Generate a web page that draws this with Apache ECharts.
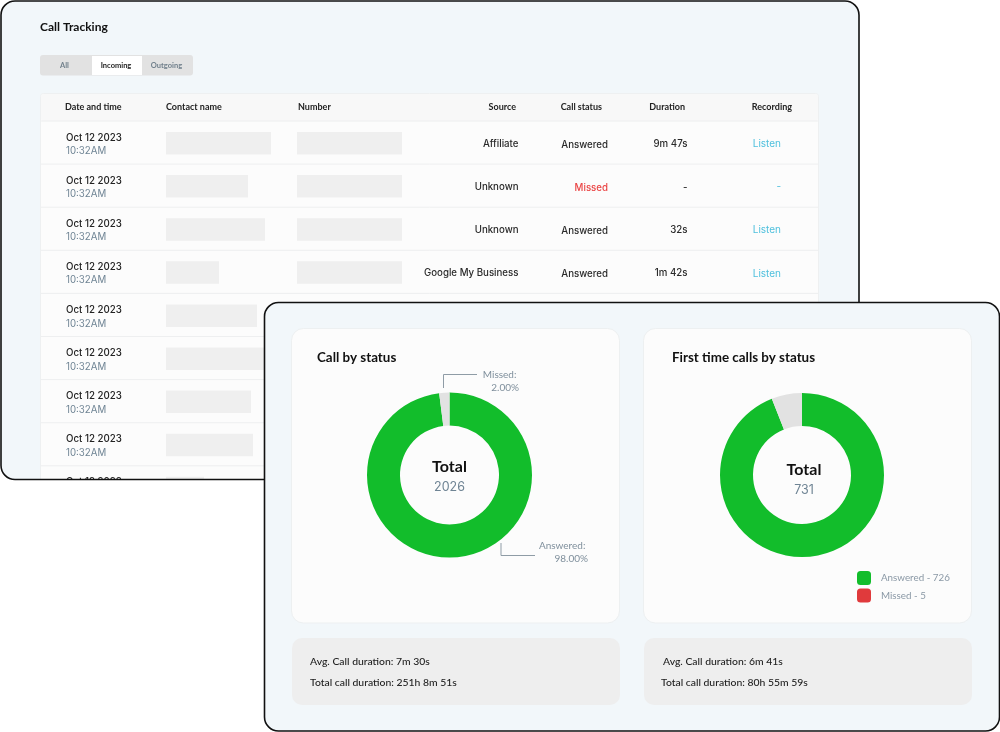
<!DOCTYPE html>
<html>
<head>
<meta charset="utf-8">
<title>Call Tracking</title>
<style>
  html, body { margin: 0; padding: 0; background: #fff; }
  #chart { width: 1000px; height: 732px; }
</style>
<script src="https://cdn.jsdelivr.net/npm/echarts@6/dist/echarts.min.js"></script>
</head>
<body>
<div id="chart"></div>
<script>
// table content
const tabs = ['All', 'Incoming', 'Outgoing'];
const columns = ['Date and time', 'Contact name', 'Number', 'Source', 'Call status', 'Duration', 'Recording'];
const dates = ['Oct 12 2023', 'Oct 12 2023', 'Oct 12 2023', 'Oct 12 2023', 'Oct 12 2023', 'Oct 12 2023', 'Oct 12 2023', 'Oct 12 2023', 'Oct 12 2023'];
const times = ['10:32AM', '10:32AM', '10:32AM', '10:32AM', '10:32AM', '10:32AM', '10:32AM', '10:32AM'];
const sources = ['Affiliate', 'Unknown', 'Unknown', 'Google My Business'];
const statuses = ['Answered', 'Missed', 'Answered', 'Answered'];
const durations = ['9m 47s', '-', '32s', '1m 42s'];
const recordings = ['Listen', '-', 'Listen', 'Listen'];
const contactBlockWidths = [105, 82, 99, 53, 91, 110, 85, 87, 38];

// donut content
const statusNames = ['Answered', 'Missed'];
const callShare = [98, 2];
const callTotal = 2026;
// slice as drawn in the picture, the legend counts below say something else
const firstTimeShare = [94, 6];
const firstTimeCounts = [726, 5];
const firstTimeTotal = 731;
const callDurations = ['Avg. Call duration: 7m 30s', 'Total call duration: 251h 8m 51s'];
const firstTimeDurations = ['Avg. Call duration: 6m 41s', 'Total call duration: 80h 55m 59s'];

const GREEN = '#12bd2b';
const GREY = '#e2e2e2';
const RED = '#e03a3c';
const SLATE = '#6f8494';
const HEAD_FONT = 'Lato, sans-serif';
const BODY_FONT = 'Inter, sans-serif';
const BODY_SIZE = 9.7;

const rect = (x, y, width, height, fill, r = 0, stroke = null, lineWidth = 1) => ({
  type: 'rect',
  shape: { x, y, width, height, r },
  style: { fill, stroke, lineWidth }
});

const text = (x, y, str, opts = {}) => ({
  type: 'text',
  x,
  y,
  style: {
    text: str,
    fill: opts.color || '#1d1d1d',
    font: `${opts.weight || 400} ${opts.size || 11}px ${opts.family || BODY_FONT}`,
    align: opts.align || 'left',
    verticalAlign: 'middle'
  }
});

function backWindow() {
  const rowTop = i => 121 + i * 43.1;
  const items = [
    rect(1, 1, 858, 478, '#f2f7fa', 14),
    rect(40.5, 93.5, 778, 400, '#fcfcfc', 3, '#eef0f1'),
    rect(41, 94, 777, 27.5, '#f8f8f8', 3),
    rect(40, 55, 153, 20.5, GREY, 3),
    rect(92, 56, 50, 19, '#fff')
  ];
  const tabX = [64.5, 116, 166.5];
  const tabColor = ['#71808c', '#1d1d1d', '#71808c'];
  tabs.forEach((t, i) => {
    items.push(text(tabX[i], 65.5, t, { size: 7.5, weight: 700, family: HEAD_FONT, align: 'center', color: tabColor[i] }));
  });
  items.push(text(40, 27, 'Call Tracking', { size: 12, weight: 700, family: HEAD_FONT, color: '#111' }));

  const colX = [65, 166, 298, 516, 602, 685, 792];
  const colAlign = ['left', 'left', 'left', 'right', 'right', 'right', 'right'];
  columns.forEach((c, i) => {
    items.push(text(colX[i], 107, c, { size: 9, weight: 700, family: HEAD_FONT, align: colAlign[i], color: '#222' }));
  });

  dates.forEach((d, i) => {
    const top = rowTop(i);
    items.push({
      type: 'line',
      shape: { x1: 41, y1: top, x2: 818, y2: top },
      style: { stroke: '#eeeff0', lineWidth: 1 }
    });
    items.push(rect(166, top + 11, contactBlockWidths[i], 22.5, '#efefef'));
    items.push(rect(297, top + 11, 105, 22.5, '#efefef'));
    items.push(text(66, top + 16.7, d, { size: BODY_SIZE, weight: 500, color: '#222' }));
    if (times[i]) items.push(text(66, top + 30.2, times[i], { size: BODY_SIZE, color: SLATE }));
  });

  sources.forEach((s, i) => {
    const top = rowTop(i);
    items.push(text(518.5, top + 23.2, s, { size: BODY_SIZE, weight: 500, align: 'right', color: '#2a2a2a' }));
    items.push(text(608, top + 23.7, statuses[i], { size: BODY_SIZE, weight: 500, align: 'right', color: statuses[i] === 'Missed' ? '#ea4444' : '#2a2a2a' }));
    items.push(text(687.5, top + 23.2, durations[i], { size: BODY_SIZE, weight: 500, align: 'right', color: '#2a2a2a' }));
    items.push(text(781, top + 23.2, recordings[i], { size: 10, align: 'right', color: '#4fc0dd' }));
  });

  // anything past the window bottom gets covered, then the outline goes on top
  items.push(rect(0, 480, 270, 30, '#fff'));
  items.push(rect(1, 1, 858, 478.5, 'transparent', 14, '#111', 1.6));
  return items;
}

function frontWindow() {
  const items = [
    rect(264.5, 302.5, 735, 428.5, '#f2f7fa', 14, '#111', 1.6),
    rect(291.5, 328.5, 328, 294.5, '#fcfcfc', 12, '#edf0f1'),
    rect(643.5, 328.5, 328, 294.5, '#fcfcfc', 12, '#edf0f1'),
    rect(292, 638, 328, 67, '#eeeeee', 10),
    rect(644, 638, 328, 67, '#eeeeee', 10),
    text(317, 357.5, 'Call by status', { size: 13.4, weight: 700, family: HEAD_FONT, color: '#111' }),
    text(672, 357.5, 'First time calls by status', { size: 13.4, weight: 700, family: HEAD_FONT, color: '#111' })
  ];
  callDurations.forEach((d, i) => {
    items.push(text(310, 662 + i * 21, d, { size: 10.4, weight: 500, family: HEAD_FONT, color: '#222' }));
  });
  firstTimeDurations.forEach((d, i) => {
    items.push(text(i ? 661 : 663, 662 + i * 21, d, { size: 10.4, weight: 500, family: HEAD_FONT, color: '#222' }));
  });
  return items;
}

function centerText(x, y, total) {
  const a = text(x, y, 'Total', { size: 16, weight: 700, family: HEAD_FONT, align: 'center', color: '#111' });
  const b = text(x, y + 20, String(total), { size: 12.5, align: 'center', color: SLATE });
  a.z = 10;
  b.z = 10;
  return [a, b];
}

const toPie = values => statusNames.map((name, i) => ({
  name,
  value: values[i],
  itemStyle: { color: i === 0 ? GREEN : GREY }
}));

const chart = echarts.init(document.getElementById('chart'));

chart.setOption({
  animation: false,
  graphic: {
    elements: [
      ...backWindow(),
      ...frontWindow(),
      ...centerText(449.5, 467, callTotal),
      ...centerText(804, 470, firstTimeTotal)
    ]
  },
  legend: {
    orient: 'vertical',
    left: 857,
    top: 571,
    padding: 0,
    itemWidth: 14,
    itemHeight: 14,
    itemGap: 3.5,
    icon: 'roundRect',
    selectedMode: false,
    data: statusNames.map((name, i) => ({ name, itemStyle: { color: i === 0 ? GREEN : RED } })),
    formatter: name => `${name} - ${firstTimeCounts[statusNames.indexOf(name)]}`,
    textStyle: { color: '#8a98a5', fontSize: 9.8, fontFamily: HEAD_FONT, padding: [0, 0, 0, 5] }
  },
  series: [
    {
      type: 'pie',
      center: [449.5, 475],
      radius: [49.5, 82.5],
      startAngle: 90,
      silent: true,
      data: toPie(callShare),
      label: {
        show: true,
        color: '#7f8f9c',
        fontSize: 10,
        lineHeight: 13,
        fontFamily: HEAD_FONT,
        align: 'right',
        formatter: p => `${p.name}:\u00a0\n${p.percent.toFixed(2)}%`
      },
      labelLine: { show: true, lineStyle: { color: '#8f9ca6', width: 1 } },
      labelLayout: p => (p.dataIndex === 1
        ? { x: 519, y: 381.5, align: 'right', verticalAlign: 'middle', labelLinePoints: [[443.5, 388], [443.5, 374.5], [477, 374.5]] }
        : { x: 588, y: 552.5, align: 'right', verticalAlign: 'middle', labelLinePoints: [[501, 543], [501, 555.5], [535, 555.5]] })
    },
    {
      type: 'pie',
      center: [802, 475],
      radius: [49, 82],
      startAngle: 90,
      silent: true,
      data: toPie(firstTimeShare),
      label: { show: false },
      labelLine: { show: false }
    }
  ]
});
</script>
</body>
</html>
